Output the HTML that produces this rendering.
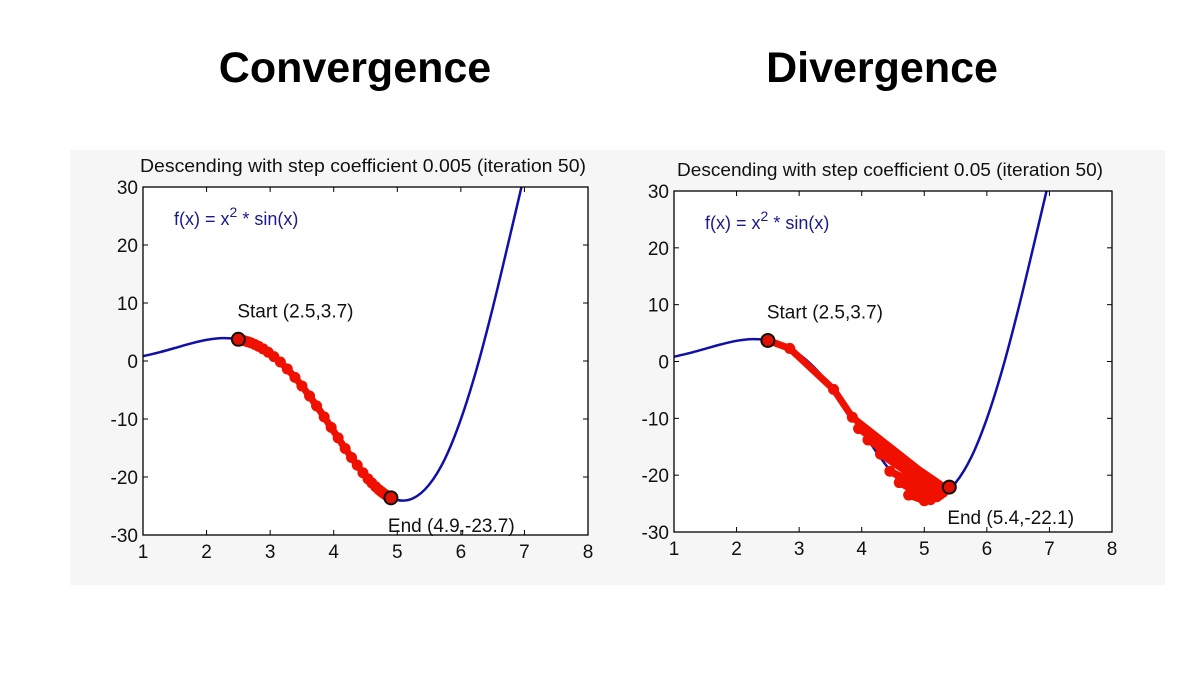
<!DOCTYPE html>
<html><head><meta charset="utf-8">
<style>
html,body{margin:0;padding:0;background:#fff;}
body{width:1200px;height:675px;overflow:hidden;position:relative;font-family:"Liberation Sans",sans-serif;}
.h{position:absolute;top:44px;font-size:43px;font-weight:bold;color:#000;text-align:center;width:400px;}
#panel{position:absolute;left:70px;top:150px;width:1095px;height:435px;background:#f6f6f6;}
svg{position:absolute;left:0;top:0;}
</style></head>
<body>
<div class="h" style="left:155px">Convergence</div>
<div class="h" style="left:682px">Divergence</div>
<div id="panel"></div>
<svg id="s" width="1200" height="675"></svg>
<script>
const curveX=[1,1.25,1.5,1.75,2,2.25,2.5,2.75,3,3.25,3.5,3.75,4,4.25,4.5,4.75,5,5.25,5.5,5.75,6,6.25,6.5,6.75,7,7.1];
const curveY=[0.84,1.48,2.24,3.01,3.64,3.94,3.74,2.89,1.27,-1.14,-4.30,-8.04,-12.11,-16.17,-19.79,-22.55,-23.97,-23.67,-21.34,-16.86,-10.06,-1.30,9.09,20.50,32.19,36.7];
const convX=[2.5,2.55,2.6,2.65,2.7,2.76,2.82,2.89,2.97,3.06,3.16,3.27,3.39,3.5,3.62,3.73,3.85,3.96,4.07,4.18,4.28,4.37,4.46,4.54,4.6,4.66,4.71,4.75,4.79,4.82,4.85,4.87,4.89,4.9];
const convY=[3.74,3.63,3.48,3.31,3.12,2.84,2.52,2.08,1.51,0.76,-0.18,-1.37,-2.82,-4.30,-6.04,-7.73,-9.64,-11.45,-13.26,-15.09,-16.63,-17.96,-19.26,-20.32,-21.03,-21.68,-22.18,-22.55,-22.87,-23.09,-23.30,-23.39,-23.53,-23.59];
const divX=[2.5,2.85,3.55,3.85,5.3,3.95,5.35,4.1,5.3,4.3,5.25,4.45,5.2,4.6,5.1,4.75,5.0,5.2,5.4];
const divY=[3.7,2.3,-4.9,-9.8,-22.4,-11.8,-22.3,-13.8,-23.0,-16.3,-23.4,-19.3,-23.8,-21.3,-24.3,-23.5,-24.5,-23.6,-22.1];
const xTicks=[1,2,3,4,5,6,7,8];
const yTicks=[30,20,10,0,-10,-20,-30];
const NS="http://www.w3.org/2000/svg";
const S=document.getElementById('s');
function mk(tag,attrs,parent,txt){const e=document.createElementNS(NS,tag);for(const k in attrs)e.setAttribute(k,attrs[k]);if(txt!==undefined)e.textContent=txt;(parent||S).appendChild(e);return e;}
function plot(cfg){
  const g=mk('g',{});
  
  
  const X=v=>cfg.l+(v-1)/7*(cfg.r-cfg.l);
  const Y=v=>cfg.b-(v+30)/60*(cfg.b-cfg.t);
  const bg=mk('rect',{x:cfg.l,y:cfg.t,width:cfg.r-cfg.l,height:cfg.b-cfg.t,fill:'#fff'},g);
  
  const cid='c'+cfg.id;
  const cp=mk('clipPath',{id:cid},g);mk('rect',{x:cfg.l,y:cfg.t,width:cfg.r-cfg.l,height:cfg.b-cfg.t},cp);
  const P=curveX.map((x,i)=>[X(x),Y(curveY[i])]);
  let d='M'+P[0][0]+','+P[0][1];
  for(let i=0;i<P.length-1;i++){const p0=P[Math.max(0,i-1)],p1=P[i],p2=P[i+1],p3=P[Math.min(P.length-1,i+2)];
    d+=` C${p1[0]+(p2[0]-p0[0])/6},${p1[1]+(p2[1]-p0[1])/6} ${p2[0]-(p3[0]-p1[0])/6},${p2[1]-(p3[1]-p1[1])/6} ${p2[0]},${p2[1]}`;}
  const cv=mk('path',{d:d,fill:'none',stroke:'#1010a8','stroke-width':2.5,'clip-path':`url(#${cid})`},g);
  
  const px=cfg.px,py=cfg.py;
  const pl=mk('polyline',{points:px.map((x,i)=>X(x)+','+Y(py[i])).join(' '),fill:'none',stroke:'#f01000','stroke-width':cfg.w,'stroke-linejoin':'round'},g);
  
  px.forEach((x,i)=>{const c=mk('circle',{cx:X(x),cy:Y(py[i]),r:5.5,fill:'#f01000'},g);
    });
  const n=px.length-1;
  [[0,'start-marker'],[n,'end-marker']].forEach(([i,nm])=>{const c=mk('circle',{cx:X(px[i]),cy:Y(py[i]),r:6.5,fill:'#e01000',stroke:'#111','stroke-width':2},g);
    });
  const fr=mk('rect',{x:cfg.l,y:cfg.t,width:cfg.r-cfg.l,height:cfg.b-cfg.t,fill:'none',stroke:'#000','stroke-width':1.3},g);
  
  xTicks.forEach(v=>{const x=X(v);
    mk('line',{x1:x,x2:x,y1:cfg.b,y2:cfg.b-5,stroke:'#000'},g);mk('line',{x1:x,x2:x,y1:cfg.t,y2:cfg.t+5,stroke:'#000'},g);
    const t=mk('text',{x:x,y:cfg.b+23,'text-anchor':'middle','font-size':19,fill:'#111'},g,String(v));
    });
  yTicks.forEach(v=>{const y=Y(v);
    mk('line',{x1:cfg.l,x2:cfg.l+5,y1:y,y2:y,stroke:'#000'},g);mk('line',{x1:cfg.r,x2:cfg.r-5,y1:y,y2:y,stroke:'#000'},g);
    const t=mk('text',{x:cfg.l-5,y:y+7,'text-anchor':'end','font-size':19,fill:'#111'},g,String(v));
    });
  const ti=mk('text',{x:cfg.tx,y:cfg.t-15,'font-size':18,fill:'#111',textLength:cfg.tw,lengthAdjust:'spacingAndGlyphs'},g,cfg.title);
  
  const fx=mk('text',{x:cfg.l+31,y:cfg.t+38,'font-size':18,fill:'#1a1a8a'},g);
  
  fx.innerHTML='f(x) = x<tspan dy="-8" font-size="14">2</tspan><tspan dy="8"> * sin(x)</tspan>';
  const st=mk('text',{x:X(2.5)-1,y:Y(3.7)-22,'font-size':19,fill:'#111'},g,'Start (2.5,3.7)');
  
  const en=mk('text',{x:X(px[n])+cfg.ex,y:Y(py[n])+cfg.ey,'font-size':19,fill:'#111'},g,cfg.end);
  
}
plot({id:1,name:'convergence-chart',l:143,r:588,t:187,b:535,px:convX,py:convY,w:7,tx:140,tw:446,title:'Descending with step coefficient 0.005 (iteration 50)',end:'End (4.9,-23.7)',ex:-3,ey:34});
plot({id:2,name:'divergence-chart',l:674,r:1112,t:191,b:532,px:divX,py:divY,w:7,tx:677,tw:426,title:'Descending with step coefficient 0.05 (iteration 50)',end:'End (5.4,-22.1)',ex:-2,ey:37});
</script>
</body></html>
